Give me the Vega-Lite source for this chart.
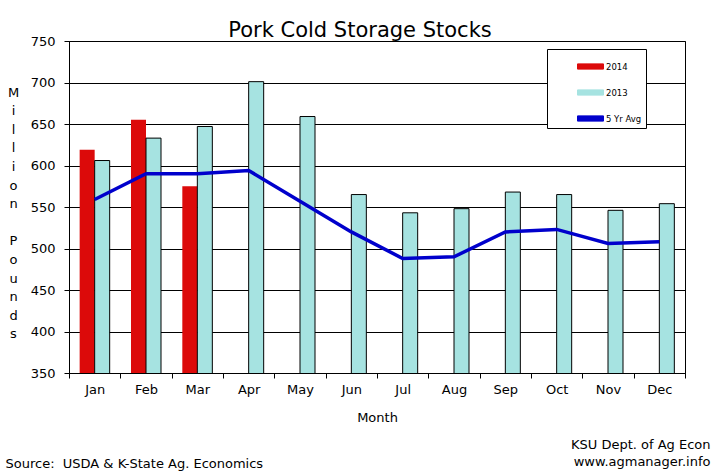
{
  "$schema": "https://vega.github.io/schema/vega-lite/v6.json",
  "width": 616,
  "height": 332,
  "autosize": "none",
  "padding": {"left": 69, "top": 41, "right": 28, "bottom": 98},
  "background": "white",
  "title": {
    "text": "Pork Cold Storage Stocks",
    "font": "DejaVu Sans",
    "fontSize": 21,
    "fontWeight": "normal",
    "color": "black",
    "anchor": "middle",
    "frame": "group",
    "dx": -17,
    "baseline": "alphabetic",
    "offset": -23
  },
  "config": {
    "font": "DejaVu Sans",
    "view": {"stroke": "black", "strokeWidth": 1},
    "axis": {
      "labelColor": "black",
      "titleColor": "black",
      "domainColor": "black",
      "tickColor": "black",
      "labelFont": "DejaVu Sans",
      "titleFont": "DejaVu Sans",
      "titleFontWeight": "normal"
    }
  },
  "datasets": {
    "bars": [
      {"month": "Jan", "series": "2014", "value": 619},
      {"month": "Feb", "series": "2014", "value": 655},
      {"month": "Mar", "series": "2014", "value": 575},
      {"month": "Jan", "series": "2013", "value": 606},
      {"month": "Feb", "series": "2013", "value": 633},
      {"month": "Mar", "series": "2013", "value": 647},
      {"month": "Apr", "series": "2013", "value": 701},
      {"month": "May", "series": "2013", "value": 659},
      {"month": "Jun", "series": "2013", "value": 565},
      {"month": "Jul", "series": "2013", "value": 543},
      {"month": "Aug", "series": "2013", "value": 548},
      {"month": "Sep", "series": "2013", "value": 568},
      {"month": "Oct", "series": "2013", "value": 565},
      {"month": "Nov", "series": "2013", "value": 546},
      {"month": "Dec", "series": "2013", "value": 554}
    ],
    "avg": [
      {"month": "Jan", "avg": 559},
      {"month": "Feb", "avg": 590},
      {"month": "Mar", "avg": 590},
      {"month": "Apr", "avg": 594},
      {"month": "May", "avg": 557},
      {"month": "Jun", "avg": 520},
      {"month": "Jul", "avg": 488},
      {"month": "Aug", "avg": 490},
      {"month": "Sep", "avg": 520},
      {"month": "Oct", "avg": 523},
      {"month": "Nov", "avg": 506},
      {"month": "Dec", "avg": 508}
    ]
  },
  "layer": [
    {
      "data": {"name": "bars"},
      "mark": {"type": "bar", "strokeWidth": 1, "clip": true},
      "encoding": {
        "x": {
          "field": "month",
          "type": "nominal",
          "sort": ["Jan","Feb","Mar","Apr","May","Jun","Jul","Aug","Sep","Oct","Nov","Dec"],
          "scale": {"paddingInner": 0, "paddingOuter": 0},
          "axis": {
            "title": "Month",
            "labelAngle": 0,
            "tickBand": "extent",
            "tickSize": 5,
            "labelPadding": 5,
            "labelFontSize": 13,
            "titleFontSize": 13,
            "titlePadding": 15,
            "grid": false
          }
        },
        "xOffset": {
          "field": "series",
          "type": "nominal",
          "sort": ["2014", "2013"],
          "scale": {"paddingInner": 0, "paddingOuter": 0.71}
        },
        "y": {
          "field": "value",
          "type": "quantitative",
          "scale": {"domain": [350, 750], "zero": false, "nice": false},
          "axis": {
            "values": [350, 400, 450, 500, 550, 600, 650, 700, 750],
            "grid": true,
            "gridColor": "black",
            "gridOpacity": 1,
            "tickSize": 5,
            "labelPadding": 9,
            "labelFontSize": 13,
            "title": ["M","i","l","l","i","o","n","\u2800","P","o","u","n","d","s"],
            "titleAngle": 0,
            "titleAlign": "center",
            "titleBaseline": "middle",
            "titleX": -56,
            "titleY": 51,
            "titleLineHeight": 18.6,
            "titleFontSize": 13
          }
        },
        "color": {
          "field": "series",
          "type": "nominal",
          "scale": {"domain": ["2014", "2013", "5 Yr Avg"], "range": ["#DC0A0A", "#A6E3E1", "#0000CC"]},
          "legend": {
            "title": null,
            "orient": "none",
            "legendX": 478,
            "legendY": 8,
            "padding": 4,
            "rowPadding": 7,
            "symbolOffset": 26,
            "labelOffset": 2,
            "labelFontSize": 8.5,
            "labelColor": "black",
            "labelExpr": "datum.label + '\u00a0\u00a0\u00a0\u00a0\u00a0\u00a0\u00a0\u00a0\u00a0\u00a0\u00a0\u00a0'",
            "fillColor": "white",
            "strokeColor": "black",
            "symbolType": "M-1,-0.2H1V0.2H-1Z",
            "symbolSize": 676,
            "symbolOpacity": 1,
            "symbolStrokeColor": "black",
            "symbolStrokeWidth": 1
          }
        },
        "stroke": {"condition": {"test": "datum.series === '2013'", "value": "black"}, "value": null}
      }
    },
    {
      "data": {"name": "avg"},
      "mark": {"type": "line", "strokeWidth": 3.5},
      "encoding": {
        "x": {
          "field": "month",
          "type": "nominal",
          "sort": ["Jan","Feb","Mar","Apr","May","Jun","Jul","Aug","Sep","Oct","Nov","Dec"],
          "axis": {
            "orient": "top",
            "labels": false,
            "ticks": false,
            "domain": false,
            "grid": false,
            "title": "Source:\u00a0 USDA & K-State Ag. Economics",
            "titleX": -64,
            "titleY": 426,
            "titleAlign": "left",
            "titleBaseline": "alphabetic",
            "titleFontSize": 13
          }
        },
        "y": {
          "field": "avg",
          "type": "quantitative",
          "scale": {"domain": [350, 750], "zero": false, "nice": false},
          "axis": {
            "orient": "right",
            "labels": false,
            "ticks": false,
            "domain": false,
            "grid": false,
            "title": ["KSU Dept. of Ag Econ", "www.agmanager.info"],
            "titleAngle": 0,
            "titleX": 25,
            "titleY": 407,
            "titleAlign": "right",
            "titleBaseline": "alphabetic",
            "titleLineHeight": 17,
            "titleFontSize": 13
          }
        },
        "color": {"datum": "5 Yr Avg"}
      }
    }
  ],
  "resolve": {"axis": {"x": "independent", "y": "independent"}}
}
